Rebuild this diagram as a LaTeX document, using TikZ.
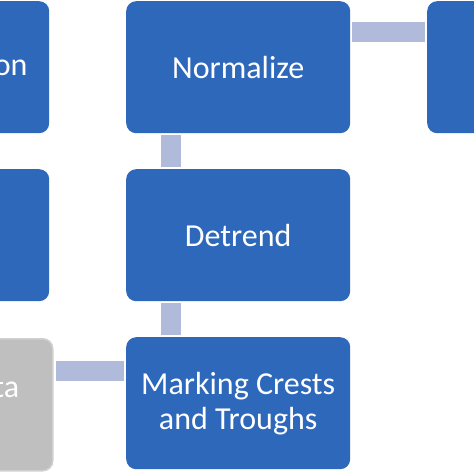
\documentclass[tikz,border=0pt]{standalone}
\usepackage{fontspec}
\setmainfont{Carlito}
\definecolor{boxblue}{RGB}{45,104,187}
\definecolor{connblue}{RGB}{176,186,219}
\definecolor{boxgray}{RGB}{191,191,191}
\definecolor{edgegray}{RGB}{208,208,208}
\tikzset{
  stepbox/.style={rectangle, rounded corners=10pt, fill=boxblue, inner sep=0pt,
    minimum width=224pt, minimum height=132pt, align=center, text=white,
    font=\fontsize{32}{35}\selectfont, anchor=north west},
  graybox/.style={stepbox, fill=boxgray, draw=edgegray, line width=1.5pt},
  conn/.style={draw=connblue, line width=20pt, line cap=butt, shorten <=2pt, shorten >=2pt}
}
\begin{document}
\begin{tikzpicture}[x=1pt,y=-1pt]
\useasboundingbox (0,0) rectangle (474,474);
% nodes
\node[stepbox] (seg) at (-175,1) {Segmentation};
\node[stepbox] (mid) at (-175,169) {};
\node[graybox] (raw) at (-172,338) {Import Data\\from File};
\node[stepbox] (norm) at (126,1) {Normalize};
\node[stepbox] (det) at (126,169) {Detrend};
\node[stepbox] (mark) at (126,337) {Marking Crests\\and Troughs};
\node[stepbox] (right) at (427,1) {};
% connectors
\draw[conn] ([yshift=-31pt]norm.north east) -- ([yshift=-31pt]right.north west);
\draw[conn] ([xshift=45pt]norm.south west) -- ([xshift=45pt]det.north west);
\draw[conn] ([xshift=45pt]det.south west) -- ([xshift=45pt]mark.north west);
\draw[conn] ([yshift=-33pt]raw.north east) -- ([yshift=-33pt]raw.north east -| mark.west);
\end{tikzpicture}
\end{document}
